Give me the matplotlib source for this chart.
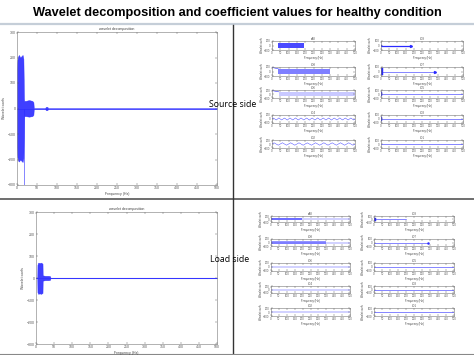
import numpy as np
import matplotlib
matplotlib.use("Agg")
import matplotlib.pyplot as plt

W, H = 474, 355
plt.rcParams['font.family'] = ['Liberation Sans', 'DejaVu Sans']

TITLE = "Wavelet decomposition and coefficient values for healthy condition"
SRC_LABEL = "Source side"
LOAD_LABEL = "Load side"
BIG_TITLE = "wavelet decomposition"
XLABEL = "Frequency (Hz)"
YLABEL = "Wavelet coefs"
BIG_YTICKS = [-300, -200, -100, 0, 100, 200, 300]
BIG_XTICKS = [0, 50, 100, 150, 200, 250, 300, 350, 400, 450, 500]
SMALL_XTICKS = [0, 50, 100, 150, 200, 250, 300, 350, 400, 450, 500]

# Source side, full decomposition envelope
src_x = [0, 1, 3, 5, 8, 11, 14, 16, 17.5, 18, 22, 30, 38, 41, 42, 70, 72, 74, 76, 78, 500]
src_up = [150, 190, 205, 210, 200, 205, 210, 195, 40, 30, 30, 33, 30, 25, 1.5, 1.5, 6, 7, 6, 1.5, 1.5]
src_lo = [-150, -190, -205, -208, -200, -205, -210, -195, -40, -30, -30, -32, -30, -25, -1.5, -1.5, -6, -7, -6, -1.5, -1.5]
src_spike_x = 18
src_spike_y = -300

# Load side, full decomposition envelope
load_x = [0, 3.5, 4, 6, 10, 14, 18, 18.5, 25, 35, 39, 40, 500]
load_up = [1.5, 1.5, 60, 70, 68, 70, 65, 12, 10, 10, 8, 1.5, 1.5]
load_lo = [-1.5, -1.5, -65, -72, -70, -72, -68, -12, -10, -10, -8, -1.5, -1.5]

# Small coefficient panels: (x_start, x_end, amplitude) of dense bands, ylim
src_left_titles = ["cA8", "cD8", "cD6", "cD4", "cD2"]
src_right_titles = ["cD9", "cD7", "cD5", "cD3", "cD1"]
src_left_band = [(38, 193, 110), (38, 350, 90), (40, 500, 120), None, None]
src_left_alpha = [0.85, 0.6, 0.25, 0, 0]
src_left_lead = [None, (0, 38, 180, 120), (0, 40, 170, 110), None, None]
src_left_ylim = [200, 200, 200, 200, 200]
src_wave4 = [0, 50, 0, -50, 0, 55, 0, -50, 0, 50, 0, -55, 0, 50, 0, -50, 0, 55, 0, -50,
             0, 50, 0, -50, 0, 50, 0, -55, 0, 50, 0, -50, 0, 55, 0, -50, 0, 50, 0, -50,
             0, 50, 0, -55, 0, 50, 0, -50, 0, 55, 0, -50, 0, 50, 0, -50, 0, 50, 0, -50, 0]
src_wave5 = [0, 60, 0, -60, 0, 62, 0, -58, 0, 60, 0, -60, 0, 60, 0, -62, 0, 58, 0, -60,
             0, 60, 0, -60, 0, 61, 0, -60, 0, 60, 0, -59, 0, 60, 0, -60, 0, 60, 0, -60, 0]

src_right_blob = [(0, 8, 20), (0, 10, 70), (0, 6, 60), (0, 6, 40), None]
src_right_line_end = [180, 330, 500, 500, 500]
src_right_endmark = [True, True, False, False, False]
src_right_ylim = [100, 100, 100, 100, 100]

load_left_titles = ["cA8", "cD8", "cD6", "cD4", "cD2"]
load_right_titles = ["cD9", "cD7", "cD5", "cD3", "cD1"]
load_left_band = [(0, 194, 90), (0, 346, 70), None, None, None]
load_left_alpha = [0.6, 0.5, 0, 0, 0]
load_right_blob = [(0, 12, 50), None, None, None, None]
load_right_line_end = [198, 337, 500, 500, 500]
load_right_endmark = [False, True, False, False, False]

BLUE = "#2a2aff"
fig = plt.figure(figsize=(W / 100, H / 100), dpi=100)
fig.patch.set_facecolor("white")


def add_ax(x0, y0, x1, y1):
    return fig.add_axes([x0 / W, 1 - y1 / H, (x1 - x0) / W, (y1 - y0) / H])


def style(ax, fs):
    ax.tick_params(direction="in", length=1.2, width=0.3, labelsize=fs, pad=1,
                   top=True, right=True, colors="#555555")
    for s in ax.spines.values():
        s.set_linewidth(0.4)
        s.set_color("#777777")


# Title and slide lines
fig.text(0.5, 1 - 13 / H, TITLE, ha="center", va="center", fontsize=9.2, fontweight="bold")
lines = fig.add_axes([0, 0, 1, 1], zorder=-1)
lines.set_xlim(0, W)
lines.set_ylim(H, 0)
lines.axis("off")
lines.plot([0, W], [24, 24], color="#c5ced8", lw=1.6)
lines.plot([0, W], [199, 199], color="#555555", lw=1.2)
lines.plot([233, 233], [25, H], color="#333333", lw=1.0)
lines.plot([0, W], [354, 354], color="#888888", lw=0.8)

# Big plots
for (x0, y0, x1, y1), xs, up, lo in [((17, 32, 217, 185), src_x, src_up, src_lo),
                                     ((36, 212, 217, 344), load_x, load_up, load_lo)]:
    ax = add_ax(x0, y0, x1, y1)
    ax.fill_between(xs, lo, up, color=BLUE, lw=0.3, edgecolor=BLUE, alpha=0.9)
    ax.plot([0, 500], [0, 0], color=BLUE, lw=0.4)
    ax.set_xlim(0, 500)
    ax.set_ylim(-300, 300)
    ax.set_xticks(BIG_XTICKS)
    ax.set_yticks(BIG_YTICKS)
    ax.set_title(BIG_TITLE, fontsize=2.5, pad=1.5, color="#444444")
    ax.set_xlabel(XLABEL, fontsize=2.5, labelpad=1, color="#444444")
    ax.set_ylabel(YLABEL, fontsize=2.5, labelpad=1, color="#444444")
    style(ax, 2.5)
    if xs is src_x:
        ax.plot([src_spike_x, src_spike_x], [0, src_spike_y], color=BLUE, lw=0.4)

fig.text(209 / W, 1 - 104 / H, SRC_LABEL, fontsize=6.3, va="center", ha="left",
         family=["Open Sans", "DejaVu Sans"])
fig.text(210 / W, 1 - 259 / H, LOAD_LABEL, fontsize=6.3, va="center", ha="left",
         family=["Open Sans", "DejaVu Sans"])


def small_ax(x0, y0, x1, y1, title, ylim):
    ax = add_ax(x0, y0, x1, y1)
    ax.set_xlim(0, 500)
    ax.set_ylim(-ylim, ylim)
    ax.set_xticks(SMALL_XTICKS)
    ax.set_yticks([-ylim, 0, ylim])
    ax.set_title(title, fontsize=2, pad=1, color="#444444")
    ax.set_xlabel(XLABEL, fontsize=2, labelpad=0.5, color="#444444")
    ax.set_ylabel(YLABEL, fontsize=1.8, labelpad=0.5, color="#444444")
    style(ax, 2)
    return ax


# Source side small panels
src_rows = [(41, 50), (67, 76), (90, 98), (115, 123), (140, 148)]
for i, (y0, y1) in enumerate(src_rows):
    ax = small_ax(272, y0, 355, y1, src_left_titles[i], src_left_ylim[i])
    if src_left_band[i] is not None:
        a, b, amp = src_left_band[i]
        ax.fill_between([a, b], [-amp, -amp], [amp, amp], color=BLUE,
                        alpha=src_left_alpha[i], lw=0)
    if src_left_lead[i] is not None:
        a, b, ya, yb = src_left_lead[i]
        ax.plot([a, b], [ya, yb], color=BLUE, lw=0.4)
    if i == 3:
        ax.plot(np.linspace(0, 500, len(src_wave4)), src_wave4, color=BLUE, lw=0.3)
    if i == 4:
        ax.plot(np.linspace(0, 500, len(src_wave5)), src_wave5, color=BLUE, lw=0.3)

    ax = small_ax(381, y0, 463, y1, src_right_titles[i], src_right_ylim[i])
    if src_right_blob[i] is not None:
        a, b, amp = src_right_blob[i]
        ax.fill_between([a, b], [-amp, -amp], [amp, amp], color=BLUE, lw=0.3)
    ax.plot([0, src_right_line_end[i]], [0, 0], color=BLUE, lw=0.9 if i == 0 else 0.4)
    if src_right_endmark[i]:
        ax.plot([src_right_line_end[i]], [0], marker=">", ms=1.5, color=BLUE)

# Load side small panels
load_rows = [(216, 222), (239, 246), (263, 271), (286, 293), (308, 316)]
for i, (y0, y1) in enumerate(load_rows):
    ax = small_ax(271, y0, 350, y1, load_left_titles[i], 200)
    if load_left_band[i] is not None:
        a, b, amp = load_left_band[i]
        ax.fill_between([a, b], [-amp, -amp], [amp, amp], color=BLUE,
                        alpha=load_left_alpha[i], lw=0)
    ax.plot([0, 500], [0, 0], color=BLUE, lw=0.3)

    ax = small_ax(374, y0, 454, y1, load_right_titles[i], 100)
    if load_right_blob[i] is not None:
        a, b, amp = load_right_blob[i]
        ax.fill_between([a, b], [-amp, -amp], [amp, amp], color=BLUE, lw=0.3)
    ax.plot([0, load_right_line_end[i]], [0, 0], color=BLUE, lw=0.4)
    if load_right_endmark[i]:
        ax.plot([load_right_line_end[i]], [0], marker="o", ms=0.8, color=BLUE)

fig.savefig("out.png", dpi=100, facecolor="white")
